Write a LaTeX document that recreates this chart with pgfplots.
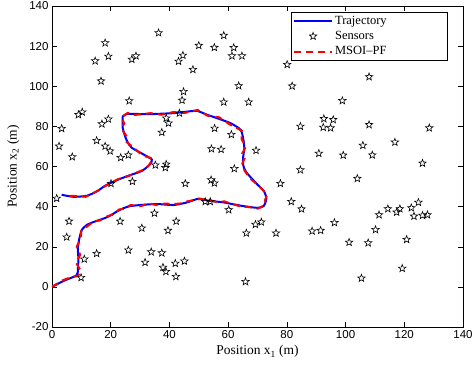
\documentclass[border=0pt]{standalone}
\usepackage{fontspec}
\setmainfont{Liberation Serif}
\newfontfamily\ticksans{Liberation Sans}
\usepackage{pgfplots}
\pgfplotsset{compat=1.18}
\pgfdeclareplotmark{pentagram}{%
  \pgfpathmoveto{\pgfpointpolar{90}{\pgfplotmarksize}}%
  \pgfpathlineto{\pgfpointpolar{126}{0.42*\pgfplotmarksize}}%
  \pgfpathlineto{\pgfpointpolar{162}{\pgfplotmarksize}}%
  \pgfpathlineto{\pgfpointpolar{198}{0.42*\pgfplotmarksize}}%
  \pgfpathlineto{\pgfpointpolar{234}{\pgfplotmarksize}}%
  \pgfpathlineto{\pgfpointpolar{270}{0.42*\pgfplotmarksize}}%
  \pgfpathlineto{\pgfpointpolar{306}{\pgfplotmarksize}}%
  \pgfpathlineto{\pgfpointpolar{342}{0.42*\pgfplotmarksize}}%
  \pgfpathlineto{\pgfpointpolar{18}{\pgfplotmarksize}}%
  \pgfpathlineto{\pgfpointpolar{54}{0.42*\pgfplotmarksize}}%
  \pgfpathclose
  \pgfusepathqstroke
}
\definecolor{trajblue}{RGB}{0,0,255}
\definecolor{pfred}{RGB}{255,0,0}
\begin{document}
\begin{tikzpicture}
\begin{axis}[name=ax,
  width=411pt, height=321pt, scale only axis,
  xmin=0, xmax=140, ymin=-20, ymax=140,
  xtick={0,20,...,140}, ytick={-20,0,...,140},
  tick align=inside, major tick length=5pt,
  tick style={black, line width=0.5pt},
  axis line style={line width=0.8pt},
  ticklabel style={font=\ticksans\fontsize{11.5}{12}\selectfont},
  /pgf/number format/assume math mode=true,
  xlabel={Position x\textsubscript{1} (m)},
  ylabel={Position x\textsubscript{2} (m)},
  ylabel style={yshift=3pt},
  label style={font=\fontsize{13.5}{14}\selectfont},
  legend cell align=left,
  legend style={at={(rel axis cs:0.962,0.982)}, anchor=north east,
    draw=black, line width=0.6pt, font=\fontsize{12.5}{13}\selectfont,
    inner xsep=2pt, inner ysep=2pt, row sep=1.5pt},
  legend image code/.code={\draw[mark repeat=2,mark phase=2,#1] plot coordinates {(0pt,0pt) (19pt,0pt) (38pt,0pt)};},
]
\addplot[trajblue, line width=2pt, smooth, tension=0.4] coordinates {
(0,0) (4,3) (8.4,5.8) (8.8,9) (9,14) (8.8,19) (9.3,24) (10.2,28.5) (12,31)
(14.1,32.3) (16.5,33.5) (18.7,34.7) (20.7,36.3) (22.6,38) (24.5,39.3) (26.5,40.2)
(30,40.8) (35.7,41.3) (41.4,40.8) (46,42.1) (50,44.0) (53,43) (58.5,42.1)
(64.2,40.5) (69.9,39.4) (72.1,40.3) (73,43.8) (72.3,47.5) (69.3,52) (66,57.5)
(65.1,61) (65.1,64.4) (65.5,69.3) (65.1,74.2) (64.2,78.4) (60.8,81.6) (56.2,84.1)
(52.8,85.8) (49.4,87.7) (45,87.2) (41.4,86.6) (37,86.3) (33.4,86.1) (28,86.2)
(25.5,86.2) (24.1,84.9) (24.1,82) (24.1,79.2) (24.9,75) (25.8,72) (27.2,69.3)
(31.2,66) (34,63.5) (33.4,61.1) (30.6,57.8) (26.6,55.7) (22.1,53.2) (18.1,50.4)
(15.3,47.6) (11.8,45.4) (7.3,44.9) (3.3,45.9)
};
\addlegendentry{Trajectory}
\addplot[only marks, mark=pentagram, mark size=3.9pt, black, mark options={line width=0.6pt}] coordinates {
(36.3,126.6) (18.1,121.6) (14.7,112.6) (19.2,114.9) (27.2,113.4) (28.6,115.1)
(16.7,102.6) (43.1,112.4) (44.6,115.4) (50.0,120.3) (48.0,108.3) (44.8,97.3)
(44.3,93.0) (26.3,92.7) (9.0,85.8) (10.3,87.1) (17.0,81.2) (19.2,83.6) (3.3,78.9)
(38.9,84.1) (39.7,81.6) (37.4,77.0) (43.4,86.6) (58.5,125.3) (55.3,119.3)
(61.9,119.2) (61.3,115.1) (64.7,115.1) (63.6,100.2) (80.1,110.8) (81.8,100.1)
(58.5,92.1) (67.0,92.1) (98.9,92.8) (92.6,83.8) (95.8,83.3) (92.4,79.5) (94.9,79.2)
(84.6,80.0) (55.4,79.0) (108.0,104.7) (108.0,80.8) (128.5,79.2) (2.4,70.1)
(6.9,64.8) (15.2,72.9) (18.1,70.1) (19.8,67.7) (23.4,64.4) (26.0,65.7) (35.2,60.7)
(38.9,61.1) (38.6,59.4) (45.4,51.5) (27.4,52.5) (20.1,51.5) (1.6,44.1) (5.8,32.7)
(5.0,24.8) (23.2,32.7) (34.9,36.7) (30.6,29.3) (42.3,32.7) (39.5,28.1) (26.0,18.3)
(15.2,16.6) (11.0,13.8) (33.8,17.4) (37.4,16.9) (31.7,12.2) (37.8,9.7) (38.8,7.6)
(42.0,11.7) (45.1,12.8) (42.2,5.1) (9.9,4.6) (61.1,75.9) (54.3,68.8) (57.6,68.5)
(69.5,68.0) (62.1,58.9) (54.2,53.3) (55.3,51.7) (77.8,51.5) (90.9,66.5) (99.2,65.6)
(84.6,58.3) (52.2,42.5) (53.9,42.5) (60.2,38.4) (81.5,42.5) (85.0,38.8) (69.3,31.1)
(71.3,32.3) (66.2,26.8) (76.3,26.8) (88.6,27.8) (91.5,28.1) (96.2,32.0) (101.2,22.2)
(105.9,70.5) (116.8,72.1) (109.1,65.7) (126.2,61.6) (104.0,54.0) (124.8,42.1)
(122.4,39.4) (118.5,38.9) (114.4,38.9) (117.4,37.2) (111.4,35.9) (123.3,35.2)
(126.2,35.6) (127.9,35.9) (110.2,28.5) (107.7,21.9) (120.8,23.6) (119.3,9.2)
(105.4,4.3) (65.9,2.6)
};
\addlegendentry{Sensors}
\addplot[pfred, line width=2pt, dash pattern=on 7pt off 5pt] coordinates {
(0,0) (3.5,3.2) (6,4.6) (8.9,5.5) (9.8,8) (8.2,12) (9.6,16) (8.4,20) (9.8,24)
(10.0,28) (12.4,30.6) (14.5,32.9) (16.2,33.0) (19.0,35.3) (20.4,35.8) (22.9,38.6)
(24.2,38.8) (26.8,40.8) (30.2,40.2) (33,41.6) (35.5,40.8) (38.5,41.5) (41.6,41.3)
(44,41.6) (46.3,42.7) (50.3,43.8) (53.2,43.5) (56,42.3) (58.7,42.6) (61,41.5)
(64.4,40.0) (67,39.8) (70.1,39.0) (72.6,40.8) (72.6,43.4) (73.3,46) (71.8,48.3)
(69.6,51.4) (67.5,54) (65.6,57.9) (64.7,61) (65.6,64) (64.8,66.5) (66,69.8)
(64.6,73.6) (64.7,77.8) (60.5,81.0) (57,84.5) (53,85.3) (49.6,88.2) (45.2,86.7)
(41.2,87.1) (37.2,85.8) (33.6,86.6) (28.2,85.7) (25.8,86.7) (23.6,84.5) (24.6,81.5)
(23.7,78.8) (25.3,75.3) (25.4,72.2) (27.6,69.7) (30.8,65.5) (34.4,63.9) (33.0,60.6)
(31,58.3) (26.2,55.3) (22.5,53.7) (17.7,49.9) (15.7,48.0) (11.5,44.9) (7.6,45.3)
(4.5,45.4)
};
\addlegendentry{\makebox[108pt][l]{MSOI--PF}}
\end{axis}
\pgfresetboundingbox
\path[use as bounding box] ([shift={(-52pt,-40pt)}]ax.south west) rectangle ([shift={(11pt,6pt)}]ax.north east);
\end{tikzpicture}
\end{document}
